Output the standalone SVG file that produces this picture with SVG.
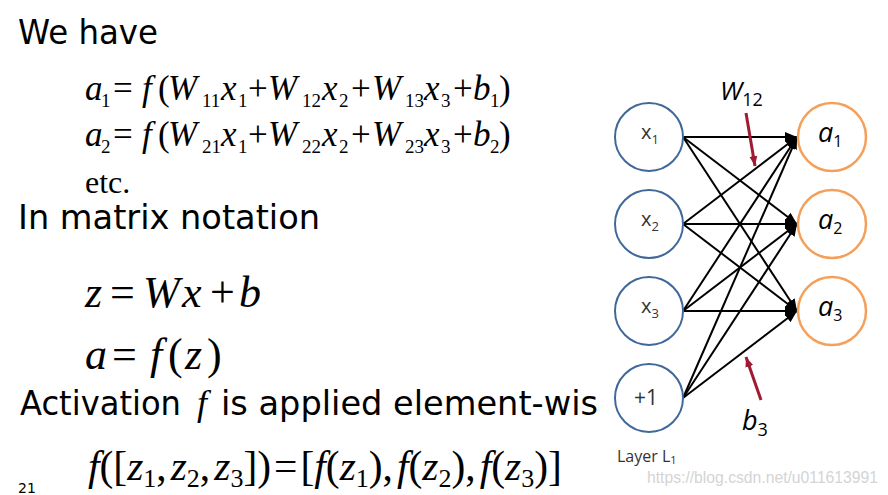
<svg xmlns="http://www.w3.org/2000/svg" width="888" height="495" viewBox="0 0 888 495">
<style>
.hd{font-family:"DejaVu Sans",sans-serif;font-size:34px;fill:#000}
.eq{font-family:"Liberation Serif",serif;fill:#000}
.it{font-style:italic}
.sb{font-size:19px}
.sb2{font-size:26px}
.in{fill:#fff;stroke:#41689a;stroke-width:2}
.out{fill:#fff;stroke:#f5a05a;stroke-width:2.5}
.lbl{font-family:"Open Sans","Noto Sans",sans-serif;fill:#333}
.lk{font-family:"Open Sans","Noto Sans",sans-serif;fill:#000}
.edge{stroke:#000;stroke-width:2;fill:none;marker-end:url(#ah)}
.red{stroke:#9e1b32;stroke-width:3;fill:none;marker-end:url(#rh)}
</style>
<defs>
<marker id="ah" markerUnits="userSpaceOnUse" markerWidth="14" markerHeight="12" refX="12" refY="6" orient="auto"><path d="M0,1 L12,6 L0,11 z" fill="#000"/></marker>
<marker id="rh" markerUnits="userSpaceOnUse" markerWidth="12" markerHeight="12" refX="10" refY="5" orient="auto"><path d="M0,1 L10,5 L0,9 z" fill="#9e1b32"/></marker>
</defs>
<rect width="888" height="495" fill="#fff"/>
<g id="text-left">
<text class="hd" x="18" y="44" textLength="140" lengthAdjust="spacingAndGlyphs">We have</text>
<text class="eq" y="100" font-size="35"><tspan class="it" x="85">a</tspan><tspan class="sb" x="101" y="107">1</tspan><tspan x="113" y="100">=</tspan><tspan class="it" x="142">f</tspan><tspan x="158">(</tspan><tspan class="it" x="168">W</tspan><tspan class="sb" x="202" y="107">11</tspan><tspan class="it" x="221" y="100">x</tspan><tspan class="sb" x="238" y="107">1</tspan><tspan x="248" y="100">+</tspan><tspan class="it" x="268">W</tspan><tspan class="sb" x="302" y="107">12</tspan><tspan class="it" x="322" y="100">x</tspan><tspan class="sb" x="339" y="107">2</tspan><tspan x="351" y="100">+</tspan><tspan class="it" x="372">W</tspan><tspan class="sb" x="405" y="107">13</tspan><tspan class="it" x="424" y="100">x</tspan><tspan class="sb" x="441" y="107">3</tspan><tspan x="453" y="100">+</tspan><tspan class="it" x="473">b</tspan><tspan class="sb" x="490" y="107">1</tspan><tspan x="499" y="100">)</tspan></text>
<text class="eq" y="146" font-size="35"><tspan class="it" x="85">a</tspan><tspan class="sb" x="101" y="153">2</tspan><tspan x="113" y="146">=</tspan><tspan class="it" x="142">f</tspan><tspan x="158">(</tspan><tspan class="it" x="168">W</tspan><tspan class="sb" x="202" y="153">21</tspan><tspan class="it" x="221" y="146">x</tspan><tspan class="sb" x="238" y="153">1</tspan><tspan x="248" y="146">+</tspan><tspan class="it" x="268">W</tspan><tspan class="sb" x="302" y="153">22</tspan><tspan class="it" x="322" y="146">x</tspan><tspan class="sb" x="339" y="153">2</tspan><tspan x="351" y="146">+</tspan><tspan class="it" x="372">W</tspan><tspan class="sb" x="405" y="153">23</tspan><tspan class="it" x="424" y="146">x</tspan><tspan class="sb" x="441" y="153">3</tspan><tspan x="453" y="146">+</tspan><tspan class="it" x="473">b</tspan><tspan class="sb" x="490" y="153">2</tspan><tspan x="499" y="146">)</tspan></text>
<text class="eq" x="85" y="193" font-size="32">etc.</text>
<text class="hd" x="18" y="229" textLength="302" lengthAdjust="spacingAndGlyphs">In matrix notation</text>
<text class="eq" y="307" font-size="44"><tspan class="it" x="85">z</tspan><tspan x="110">=</tspan><tspan class="it" x="143">W</tspan><tspan class="it" x="182">x</tspan><tspan x="210">+</tspan><tspan class="it" x="239">b</tspan></text>
<text class="eq" y="369" font-size="44"><tspan class="it" x="85">a</tspan><tspan x="112">=</tspan><tspan class="it" x="150">f</tspan><tspan x="168">(</tspan><tspan class="it" x="185">z</tspan><tspan x="207">)</tspan></text>
<text class="hd" x="20" y="415" textLength="161" lengthAdjust="spacingAndGlyphs">Activation</text>
<text class="eq it" x="197" y="415" font-size="36">f</text>
<text class="hd" x="221" y="415" textLength="377" lengthAdjust="spacingAndGlyphs">is applied element-wis</text>
<text class="eq" y="480" font-size="41.5"><tspan class="it" x="88">f</tspan><tspan>([</tspan><tspan class="it">z</tspan><tspan class="sb2" dy="7">1</tspan><tspan dy="-7">,</tspan><tspan class="it" dx="4">z</tspan><tspan class="sb2" dy="7">2</tspan><tspan dy="-7">,</tspan><tspan class="it" dx="4">z</tspan><tspan class="sb2" dy="7">3</tspan><tspan dy="-7">])</tspan><tspan dx="3">=</tspan><tspan dx="3">[</tspan><tspan class="it">f</tspan><tspan>(</tspan><tspan class="it">z</tspan><tspan class="sb2" dy="7">1</tspan><tspan dy="-7">),</tspan><tspan class="it" dx="4">f</tspan><tspan>(</tspan><tspan class="it">z</tspan><tspan class="sb2" dy="7">2</tspan><tspan dy="-7">),</tspan><tspan class="it" dx="4">f</tspan><tspan>(</tspan><tspan class="it">z</tspan><tspan class="sb2" dy="7">3</tspan><tspan dy="-7">)]</tspan></text>
<text x="18" y="493" font-family="DejaVu Sans,sans-serif" font-size="14" fill="#000">21</text>
</g>
<g id="connectors">
<line class="edge" x1="683" y1="137" x2="797" y2="137"/>
<line class="edge" x1="683" y1="137" x2="797" y2="224"/>
<line class="edge" x1="683" y1="137" x2="797" y2="311"/>
<line class="edge" x1="683" y1="224" x2="797" y2="137"/>
<line class="edge" x1="683" y1="224" x2="797" y2="224"/>
<line class="edge" x1="683" y1="224" x2="797" y2="311"/>
<line class="edge" x1="683" y1="311" x2="797" y2="137"/>
<line class="edge" x1="683" y1="311" x2="797" y2="224"/>
<line class="edge" x1="683" y1="311" x2="797" y2="311"/>
<line class="edge" x1="683" y1="398" x2="797" y2="137"/>
<line class="edge" x1="683" y1="398" x2="797" y2="224"/>
<line class="edge" x1="683" y1="398" x2="797" y2="311"/>
<line class="red" x1="746" y1="113" x2="755" y2="166"/>
<line class="red" x1="761" y1="400" x2="746" y2="357"/>
</g>
<g id="x1"><circle class="in" cx="649" cy="137" r="34"/><text class="lbl" x="641" y="139" font-size="20">x<tspan font-size="13" dy="5">1</tspan></text></g>
<g id="x2"><circle class="in" cx="649" cy="224" r="34"/><text class="lbl" x="641" y="226" font-size="20">x<tspan font-size="13" dy="5">2</tspan></text></g>
<g id="x3"><circle class="in" cx="649" cy="311" r="34"/><text class="lbl" x="641" y="313" font-size="20">x<tspan font-size="13" dy="5">3</tspan></text></g>
<g id="bias"><circle class="in" cx="649" cy="398" r="34"/><text class="lbl" x="646" y="405" font-size="21" text-anchor="middle">+1</text></g>
<g id="a1"><circle class="out" cx="832" cy="137" r="34"/><text class="lk" x="818" y="142" font-size="27"><tspan font-style="italic">a</tspan><tspan font-size="16" dy="5">1</tspan></text></g>
<g id="a2"><circle class="out" cx="832" cy="224" r="34"/><text class="lk" x="818" y="229" font-size="27"><tspan font-style="italic">a</tspan><tspan font-size="16" dy="5">2</tspan></text></g>
<g id="a3"><circle class="out" cx="832" cy="311" r="34"/><text class="lk" x="818" y="316" font-size="27"><tspan font-style="italic">a</tspan><tspan font-size="16" dy="5">3</tspan></text></g>
<g id="labels">
<text class="lk" x="720" y="100" font-size="26"><tspan font-style="italic">W</tspan><tspan font-size="18" dy="6">12</tspan></text>
<text class="lk" x="742" y="430" font-size="27"><tspan font-style="italic">b</tspan><tspan font-size="18" dy="6">3</tspan></text>
<text class="lbl" x="617" y="462" font-size="16" fill="#404040">Layer L<tspan font-size="11" dy="2">1</tspan></text>
<text x="647" y="483" font-family="Liberation Sans,sans-serif" font-size="16" fill="#d4d4d4" textLength="231" lengthAdjust="spacingAndGlyphs">https://blog.csdn.net/u011613991</text>
</g>
</svg>
